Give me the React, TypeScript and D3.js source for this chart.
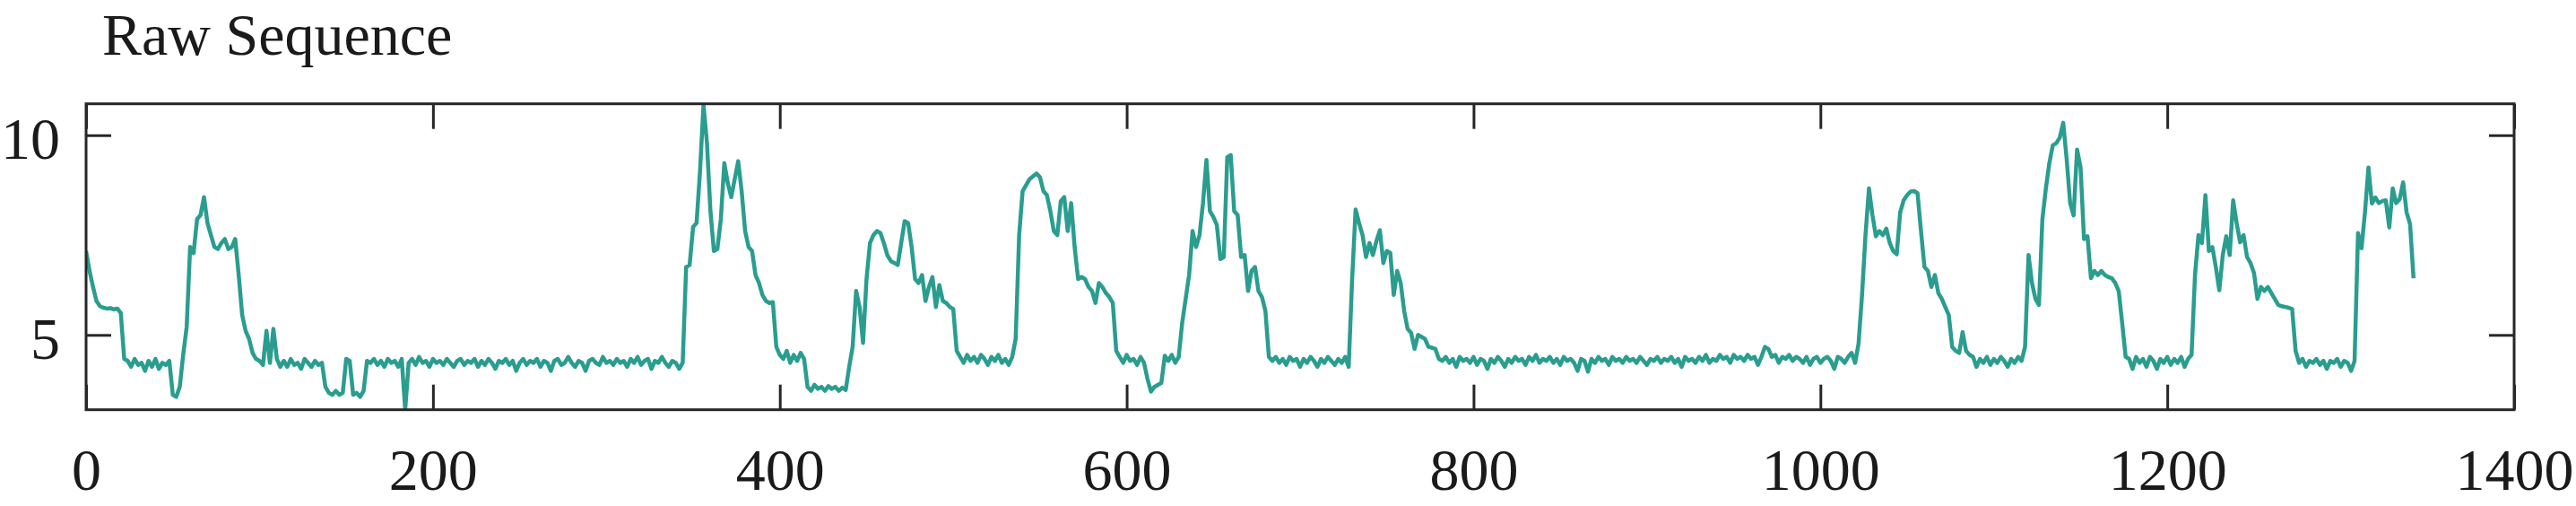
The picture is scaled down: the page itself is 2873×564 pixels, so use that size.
import React, { useRef, useEffect } from 'react';
import { select, scaleLinear, axisBottom, axisTop, axisLeft, axisRight, line } from 'd3';

const dim = {
  width: 2873,
  height: 564,
  left: 96,
  right: 2804,
  top: 115.7,
  bottom: 456.7,
};

const title = 'Raw Sequence';
const xTicks = [0, 200, 400, 600, 800, 1000, 1200, 1400];
const yTicks = [5, 10];
const xDomain = [0, 1400];
const yDomain = [3.127, 10.786];
const sampleStep = 2;

// each chunk: first sample index (x) and values every `sampleStep` after it
const startDecay = { from: 0, values: [7.1, 6.6, 6.2, 5.85, 5.72, 5.68, 5.66, 5.67, 5.64, 5.66, 5.55, 4.4] };
const rest1 = { from: 24, values: [4.35, 4.2, 4.4, 4.25, 4.3, 4.1, 4.35, 4.2, 4.4, 4.15, 4.3, 4.25, 4.35] };
const burst1 = {
  from: 50,
  values: [3.5, 3.45, 3.7, 4.5, 5.2, 7.2, 7.05, 7.9, 8.0, 8.45, 7.8, 7.5, 7.2, 7.15, 7.3, 7.4, 7.15, 7.2, 7.4, 6.5, 5.5, 5.1, 4.9, 4.55, 4.4, 4.35, 4.25],
};
const blip1 = { from: 104, values: [5.1, 4.3, 5.15, 4.4, 4.2] };
const rest2 = { from: 114, values: [4.35, 4.2, 4.4, 4.25, 4.3, 4.15, 4.4, 4.3, 4.2, 4.35, 4.25, 4.3] };
const dip1 = { from: 138, values: [3.7, 3.55, 3.5, 3.6, 3.5, 3.55, 4.4, 4.35, 3.5, 3.55, 3.45, 3.6, 4.35] };
const rest3 = {
  from: 164,
  values: [
    4.3, 4.4, 4.25, 4.35, 4.2, 4.4, 4.3, 4.35, 4.2, 4.4,
    3.13, 4.3, 4.4, 4.25, 4.45, 4.3, 4.35, 4.2, 4.4, 4.3,
    4.35, 4.25, 4.4, 4.3, 4.2, 4.35, 4.4, 4.25, 4.35, 4.3,
    4.4, 4.2, 4.35, 4.25, 4.4, 4.3, 4.15, 4.35, 4.3, 4.4,
    4.25, 4.35, 4.1, 4.3, 4.4, 4.25, 4.35, 4.3, 4.4, 4.2,
    4.35, 4.3, 4.1, 4.35, 4.4, 4.25, 4.3, 4.45, 4.3, 4.2,
    4.35, 4.3, 4.1, 4.35, 4.4, 4.3, 4.25, 4.45, 4.3, 4.35,
    4.25, 4.4, 4.3, 4.35, 4.2, 4.4, 4.3, 4.45, 4.25, 4.35,
    4.4, 4.15, 4.35, 4.3, 4.45, 4.3, 4.2, 4.35, 4.3, 4.15,
    4.3,
  ],
};
const burst2 = {
  from: 346,
  values: [
    6.7, 6.75, 7.7, 7.8, 9.1, 10.77, 9.8, 8.1, 7.1, 7.15, 7.9, 9.3, 8.8, 8.45, 8.9, 9.35, 8.6, 7.6, 7.2, 7.1,
    6.5, 6.3, 6.0, 5.85, 5.8, 5.82, 4.7, 4.5, 4.4, 4.6, 4.3, 4.5, 4.35, 4.55, 4.4,
  ],
};
const low1 = { from: 416, values: [3.7, 3.6, 3.75, 3.65, 3.7, 3.6, 3.72, 3.65, 3.7, 3.6, 3.68, 3.62] };
const burst3 = {
  from: 440,
  values: [
    4.2, 4.7, 6.1, 5.7, 4.8, 6.4, 7.3, 7.5, 7.6, 7.55, 7.3, 7.0, 6.85, 6.8, 6.75, 7.3, 7.85, 7.8, 7.2, 6.4,
    6.3, 6.5, 5.85, 6.2, 6.45, 5.7, 6.25, 5.85, 5.8, 5.7, 5.65, 4.6,
  ],
};
const rest4 = { from: 504, values: [4.45, 4.3, 4.5, 4.35, 4.45, 4.3, 4.5, 4.4, 4.25, 4.45, 4.35, 4.5, 4.3, 4.4, 4.25, 4.45] };
const burst4 = {
  from: 536,
  values: [
    4.9, 7.5, 8.6, 8.75, 8.9, 8.97, 9.04, 8.95, 8.6, 8.5, 8.1, 7.6, 7.5, 8.35, 8.45, 7.6, 8.3, 7.2, 6.4, 6.45,
    6.4, 6.2, 6.1, 5.8, 6.3, 6.2, 6.05, 5.95, 5.8, 4.6,
  ],
};
const rest5 = { from: 596, values: [4.45, 4.3, 4.5, 4.35, 4.4, 4.25, 4.45, 4.3, 3.9, 3.58, 3.7, 3.75, 3.8, 4.48, 4.35, 4.5, 4.3, 4.45] };
const burst5 = {
  from: 632,
  values: [
    5.3, 5.9, 6.5, 7.6, 7.2, 7.5, 8.3, 9.38, 8.1, 7.95, 7.75, 6.9, 6.95, 9.45, 9.5, 8.1, 8.0, 6.95, 7.0, 6.1,
    6.6, 6.7, 6.1, 5.95, 5.6, 4.45,
  ],
};
const rest6 = {
  from: 684,
  values: [4.35, 4.45, 4.3, 4.4, 4.25, 4.45, 4.35, 4.4, 4.2, 4.4, 4.3, 4.45, 4.35, 4.2, 4.4, 4.3, 4.45, 4.35, 4.25, 4.4, 4.3, 4.45, 4.2],
};
const burst6 = {
  from: 730,
  values: [
    6.4, 8.14, 7.8, 7.5, 6.95, 7.3, 7.0, 7.35, 7.62, 6.8, 7.1, 7.05, 6.0, 6.6, 6.3, 5.6, 5.15, 5.05, 4.65, 5.0,
    4.95, 4.9, 4.7, 4.68, 4.65, 4.4,
  ],
};
const rest7 = {
  from: 782,
  values: [
    4.35, 4.45, 4.3, 4.4, 4.2, 4.45, 4.35, 4.4, 4.3, 4.45, 4.25, 4.4, 4.35, 4.15, 4.4, 4.3, 4.45, 4.35, 4.2, 4.4,
    4.3, 4.45, 4.35, 4.4, 4.25, 4.45, 4.35, 4.5, 4.3, 4.4, 4.35, 4.45, 4.3, 4.4, 4.25, 4.45, 4.35, 4.4, 4.3, 4.1,
    4.4, 4.35, 4.08, 4.4, 4.3, 4.45, 4.35, 4.4, 4.25, 4.45, 4.35, 4.4, 4.3, 4.45, 4.35, 4.4, 4.3, 4.45, 4.35, 4.25,
    4.4, 4.35, 4.45, 4.3, 4.4, 4.35, 4.45, 4.3, 4.4, 4.2, 4.45, 4.35, 4.4, 4.3, 4.45, 4.35, 4.5, 4.3, 4.4, 4.35,
    4.5, 4.4, 4.45, 4.3, 4.5, 4.4, 4.45, 4.35, 4.5, 4.4, 4.45, 4.25, 4.45, 4.7, 4.65, 4.45, 4.5, 4.3, 4.45, 4.4,
    4.5, 4.35, 4.45, 4.4, 4.3, 4.45, 4.25, 4.4, 4.45, 4.3, 4.4, 4.45, 4.35, 4.15, 4.45, 4.4, 4.3, 4.45, 4.55, 4.3,
  ],
};
const burst7 = {
  from: 1022,
  values: [
    4.78, 6.0, 7.5, 8.67, 8.0, 7.47, 7.6, 7.5, 7.66, 7.3, 7.1, 7.02, 8.07, 8.37, 8.5, 8.59, 8.6, 8.55, 7.6, 6.7,
    6.6, 6.2, 6.5, 6.05, 5.9, 5.7, 5.5, 4.7, 4.6, 4.55, 5.07, 4.6, 4.5,
  ],
};
const rest8 = { from: 1088, values: [4.45, 4.2, 4.4, 4.3, 4.45, 4.25, 4.4, 4.3, 4.45, 4.35, 4.2, 4.4, 4.3, 4.45, 4.35] };
const burst8 = {
  from: 1118,
  values: [
    4.7, 7.0, 6.3, 5.9, 5.75, 7.9, 8.67, 9.3, 9.75, 9.8, 9.94, 10.31, 9.4, 8.3, 7.99, 9.64, 9.2, 7.4, 7.47, 6.42,
    6.6, 6.5, 6.6, 6.5, 6.45, 6.42, 6.3, 6.1, 5.3, 4.45,
  ],
};
const rest9 = { from: 1178, values: [4.4, 4.15, 4.45, 4.3, 4.4, 4.2, 4.45, 4.35, 4.15, 4.4, 4.3, 4.45, 4.25, 4.4, 4.3, 4.45, 4.2, 4.4] };
const burst9 = {
  from: 1214,
  values: [
    4.5, 6.5, 7.5, 7.3, 8.5, 7.1, 7.2, 6.7, 6.12, 7.0, 7.47, 7.0, 8.37, 7.8, 7.32, 7.5, 6.95, 6.8, 6.55, 5.9,
    6.2, 6.1, 6.2, 6.05, 5.9, 5.75, 5.72, 5.7, 5.68, 5.65, 4.6,
  ],
};
const rest10 = { from: 1276, values: [4.3, 4.4, 4.2, 4.35, 4.3, 4.4, 4.25, 4.35, 4.15, 4.35, 4.3, 4.4, 4.2, 4.35, 4.3, 4.1, 4.35] };
const burst10 = { from: 1310, values: [7.55, 7.17, 8.07, 9.19, 8.29, 8.44, 8.3, 8.35, 8.37, 7.69, 8.67, 8.3, 8.4, 8.82, 8.07, 7.77, 6.42] };

const chunks = [
  startDecay, rest1, burst1, blip1, rest2, dip1, rest3, burst2, low1, burst3, rest4, burst4, rest5,
  burst5, rest6, burst6, rest7, burst7, rest8, burst8, rest9, burst9, rest10, burst10,
];

const series: [number, number][] = chunks.flatMap((c) =>
  c.values.map((v, i) => [c.from + i * sampleStep, v] as [number, number])
);

const lineColor = '#2a9d8f';
const axisColor = '#262626';
const fontFamily = '"Liberation Serif", "Times New Roman", serif';

const RawSequence = () => {
  const svgRef = useRef<SVGSVGElement>(null);

  useEffect(() => {
    const svg = select(svgRef.current);
    svg.selectAll('*').remove();

    const xScale = scaleLinear().domain(xDomain).range([dim.left, dim.right]);
    const yScale = scaleLinear().domain(yDomain).range([dim.bottom, dim.top]);

    svg
      .append('defs')
      .append('clipPath')
      .attr('id', 'plot-clip')
      .append('rect')
      .attr('x', dim.left)
      .attr('y', dim.top)
      .attr('width', dim.right - dim.left)
      .attr('height', dim.bottom - dim.top);

    const path = line<[number, number]>()
      .x((d) => xScale(d[0]))
      .y((d) => yScale(d[1]));

    svg
      .append('path')
      .datum(series)
      .attr('d', path)
      .attr('fill', 'none')
      .attr('stroke', lineColor)
      .attr('stroke-width', 4.5)
      .attr('stroke-linejoin', 'round')
      .attr('clip-path', 'url(#plot-clip)');

    const styleAxis = (g: any) => {
      g.select('.domain').remove();
      g.selectAll('line').attr('stroke', axisColor).attr('stroke-width', 3);
      g.selectAll('text')
        .attr('fill', '#1a1a1a')
        .style('font-family', fontFamily)
        .style('font-size', '66px');
    };

    const plain = (d: any) => String(d);

    svg
      .append('g')
      .attr('transform', `translate(0,${dim.bottom})`)
      .call(axisBottom(xScale).tickValues(xTicks).tickFormat(plain).tickSizeInner(-28).tickSizeOuter(0).tickPadding(42))
      .call(styleAxis);

    svg
      .append('g')
      .attr('transform', `translate(0,${dim.top})`)
      .call(axisTop(xScale).tickValues(xTicks).tickSizeInner(-28).tickSizeOuter(0).tickFormat(() => ''))
      .call(styleAxis);

    svg
      .append('g')
      .attr('transform', `translate(${dim.left},0)`)
      .call(axisLeft(yScale).tickValues(yTicks).tickFormat(plain).tickSizeInner(-28).tickSizeOuter(0).tickPadding(29))
      .call(styleAxis)
      .selectAll('text')
      .attr('dy', '0.39em');

    svg
      .append('g')
      .attr('transform', `translate(${dim.right},0)`)
      .call(axisRight(yScale).tickValues(yTicks).tickSizeInner(-28).tickSizeOuter(0).tickFormat(() => ''))
      .call(styleAxis);

    svg
      .append('rect')
      .attr('x', dim.left)
      .attr('y', dim.top)
      .attr('width', dim.right - dim.left)
      .attr('height', dim.bottom - dim.top)
      .attr('fill', 'none')
      .attr('stroke', axisColor)
      .attr('stroke-width', 3);

    svg
      .append('text')
      .attr('x', 114)
      .attr('y', 61)
      .attr('fill', '#1a1a1a')
      .style('font-family', fontFamily)
      .style('font-size', '66px')
      .text(title);
  }, []);

  return (
    <div style={{ position: 'fixed', left: 0, top: 0 }}>
      <svg
        ref={svgRef}
        width={dim.width}
        height={dim.height}
        style={{ display: 'block', background: 'white' }}
      />
    </div>
  );
};

export default RawSequence;
